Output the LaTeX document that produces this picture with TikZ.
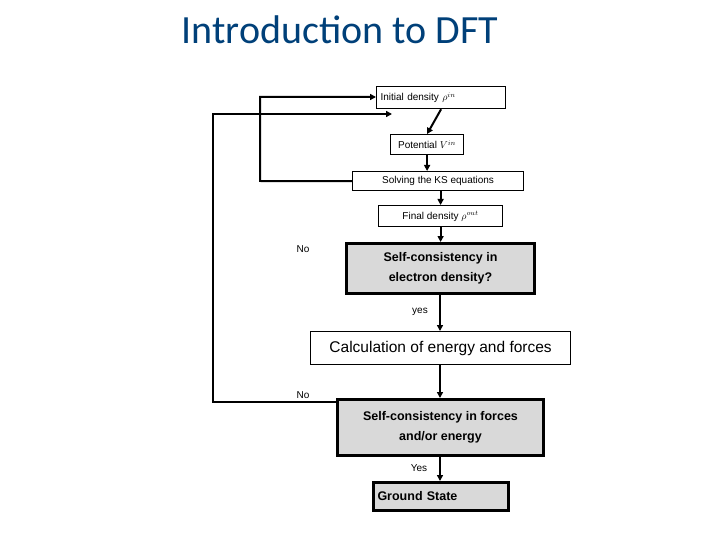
\documentclass[tikz,border=0pt]{standalone}
\usepackage{fontspec}
\setmainfont{Liberation Sans}
\newfontfamily\titlefont{Carlito}
\usetikzlibrary{arrows.meta}
\begin{document}
\begin{tikzpicture}[x=1pt,y=-1pt,
  thinbox/.style={draw,line width=1.2pt,fill=white,inner sep=0pt},
  thickbox/.style={draw,line width=3pt,fill=black!15,inner sep=0pt},
  conn/.style={line width=2pt,-{Triangle[width=6pt,length=6pt]}},
  lbl/.style={font=\fontsize{10}{12}\selectfont}]
\useasboundingbox (0,0) rectangle (720,540);
\node[font=\titlefont\fontsize{40}{44}\selectfont,text=blue!30!black!75!cyan,anchor=center] (title) at (340,30) {Introduction to DFT};
\node[thinbox,minimum width=129,minimum height=22,anchor=north west,text width=125,align=left,font=\fontsize{10}{12}\selectfont] (init) at (376,86) {\hspace{2pt}Initial density $\rho^{in}$};
\node[thinbox,minimum width=73,minimum height=20,anchor=north west,font=\fontsize{10}{12}\selectfont] (pot) at (390,134) {Potential $V^{in}$};
\node[thinbox,minimum width=171,minimum height=19,anchor=north west,font=\fontsize{10}{12}\selectfont] (ks) at (352,171) {Solving the KS equations};
\node[thinbox,minimum width=124,minimum height=21,anchor=north west,font=\fontsize{10}{12}\selectfont] (fin) at (378,205) {Final density $\rho^{out}$};
\node[thickbox,minimum width=188,minimum height=50,anchor=north west,align=center,font=\bfseries\fontsize{12.5}{20}\selectfont] (sc1) at (345,242) {Self-consistency in\\electron density?};
\node[thinbox,minimum width=260,minimum height=33,anchor=north west,font=\fontsize{15.5}{18}\selectfont] (calc) at (310,331) {Calculation of energy and forces};
\node[thickbox,minimum width=206,minimum height=56,anchor=north west,align=center,font=\bfseries\fontsize{12.5}{20}\selectfont] (sc2) at (336,398) {Self-consistency in forces\\and/or energy};
\node[thickbox,minimum width=135,minimum height=28,anchor=north west,text width=127,align=left,font=\bfseries\fontsize{12.5}{15}\selectfont] (gs) at (372,481) {Ground State};
\node[lbl] (no1) at (303,249) {No};
\node[lbl] (yes1) at (420,312) {yes};
\node[lbl] (no2) at (303,395) {No};
\node[lbl] (yes2) at (419,468) {Yes};
\coordinate (t1) at (392,114);
\draw[conn] (init.south) -- (pot.north);
\draw[conn] (pot.south) -- (ks.north -| pot.south);
\draw[conn] (ks.south -| fin.north) -- (fin.north);
\draw[conn] (fin.south) -- (sc1.north -| fin.south);
\draw[conn] (sc1.south -| 440,0) -- (calc.north -| 440,0);
\draw[conn] (calc.south -| 440,0) -- (sc2.north -| 440,0);
\draw[conn] (sc2.south -| 440,0) -- (gs.north -| 440,0);
\draw[conn] (ks.west) -- (260,181) -- (260,97) -- (init.west |- 0,97);
\draw[conn] (sc2.west |- 0,402) -- (213,402) -- (213,114) -- (t1);
\end{tikzpicture}
\end{document}
